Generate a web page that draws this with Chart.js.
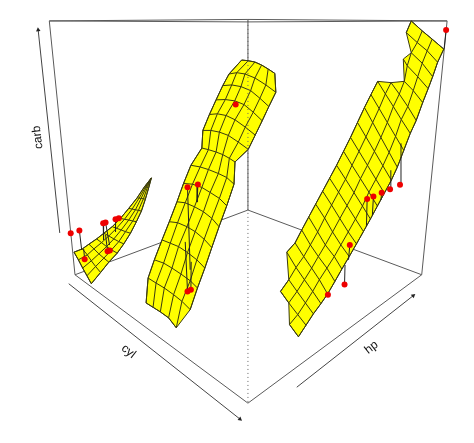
<!DOCTYPE html>
<html><head><meta charset="utf-8">
<style>html,body{margin:0;padding:0;background:#fff}canvas{display:block}</style>
<script src="https://cdn.jsdelivr.net/npm/chart.js@4/dist/chart.umd.min.js"></script>
</head><body><canvas id="c" width="474" height="443"></canvas>
<script>
// Projected (plot-plane) readings of the perspective surface plot: [across, down]
const N = null;
const leftRows = [
 [[73.3,252.3],[77.7,260],[82,268.3],[86.3,276],[90.7,284]],
 [[81.7,249],[86.7,255],[90.7,261],[95,266.7],[100,272.7]],
 [[88.3,244.3],[93.3,249],[98.3,254],[103.3,258.3],[108.3,262.3]],
 [[96,239],[101,242.7],[106,246.7],[111,250],[116.7,253.3]],
 [[103.3,233.3],[108.3,236],[113.3,239],[118.3,241.7],[123.3,244]],
 [[111.7,226.7],[116,228.3],[120.7,230],[125,231.7],[130,233.3]],
 [[120,218.3],[124,219.3],[128.3,220],[132.3,221],[136,221.7]],
 [[128.3,208.3],[131.7,209],[135,209.7],[138,210.3],[141,211]],
 [[136.7,197.7],[138.7,198],[140.7,198.3],[143,198.7],[145,199]],
 [[144,186.7],[145,187],[146,187],[147,187.3],[148.3,187.7]],
 [[151,177.7],[151,177.7],[151,177.7],[151,177.7],[151,177.7]]
];
const midRows = [
 [[145.7,303.3],[152.7,307.7],[160,312.3],[168.3,318.3],[176,328.3],N],
 [[147.7,278.3],[155.7,283.3],[164,288.3],[173.3,295],[181.7,301.7],[190,310]],
 [[154,260],[163.3,263.3],[171.7,268.3],[180.7,274.3],[190,281],[197.3,288.3]],
 [[161.7,240],[170,243.3],[178.3,246.7],[187.3,252.7],[196.7,260],[204.7,268.3]],
 [[169,221.7],[177.3,222.7],[186.7,226.7],[195,231.7],[204,239.3],[211.7,247.7]],
 [[176.7,201.7],[185,202.7],[194.3,206.7],[203.3,211.7],[211.7,218.3],[219,226.7]],
 [[183.3,183.3],[192.3,184],[201.7,187.3],[210,192.3],[219.3,198.3],[226.7,205.7]],
 [[190.7,165],[200,166.7],[208.3,169.3],[218.3,173.3],[226.7,177.3],[234,184]],
 [[201.7,147.7],[208.3,149.3],[216,151.7],[222.7,154.3],[229.3,158],[235,161.7]],
 [[202.7,130],[210.7,130],[219.3,131.7],[228.3,135],[238.3,141.7],[248.3,149]],
 [[209.3,114],[217.3,113.3],[226,115],[235,119.3],[245.3,126.7],[255.3,134.7]],
 [[216,99.3],[225.3,99],[234.7,100.3],[244,104],[253.3,111.7],[262.3,120.3]],
 [[222.7,85],[231.7,84.3],[241,86],[250.7,90],[260,97.7],[269,106]],
 [[229,73.3],[236.7,72],[245,73.3],[255,77.3],[266,84.3],[276,91.7]],
 [[241.7,59.3],[248.3,60],[255,61.3],[261.7,64.3],[268.3,68.3],[275,72.7]]
];
const rightRows = [
 [[298.7,337.3],[289.7,325],N,N,N],
 [[306.3,325.7],[298,315],[289,303.3],[280.7,291.7],N],
 [[313.7,314.3],[305.7,303.3],[297.3,291.7],[289,280],N],
 [[321.3,304],[313,291.7],[304.7,280],[296.3,267.7],[287,252.3]],
 [[328,294.3],[319.7,280],[312,268.3],[304,256.7],[295.3,243]],
 [[335.3,281.7],[327.3,268.3],[318.7,256.7],[310.7,245],[302,230]],
 [[342.3,269.3],[334.7,256.7],[325.7,245],[318,232],[309,217]],
 [[349.7,256.7],[341.3,245],[333,232],[325,218],[316,204]],
 [[357,244],[348.7,232],[340.3,218.5],[332,205],[323,191]],
 [[364,231.5],[356,219],[347.5,205.5],[339,192],[330,178]],
 [[371,219],[363,206],[354.5,192.5],[346,179],[337,165]],
 [[378,206],[369.5,192],[361,178.5],[352.5,165],[344,151]],
 [[385,193],[376.5,179],[368,165],[359.5,151],[351,137]],
 [[392,180],[383.5,165.5],[375,151],[366.5,136.5],[358,122]],
 [[398,167],[389.75,152],[381.5,137],[373.25,122],[365,107]],
 [[404.5,150],[396.25,136],[388,122],[379.75,108],[371.5,94]],
 [[411,133],[402,119],[394,106],[386,93.3],[378.3,80.7]],
 [[417,120],[408.5,106],[400,93.5],[391.7,82],N],
 [[423.5,102],[414,90],[405,80.7],N,N],
 [[429,88],[418.5,76],[408,65],[404,58.3],N],
 [[433.5,76],[423,62.5],[412,52],N,N],
 [[438.5,61.5],[428,50],[418,41.7],[407,31.7],N],
 [[444.7,48.3],[433,38.3],[423,30],[412,20],N]
];
const rightOutline = [[22,3],[22,2],[22,1],[22,0],[21,0],[20,0],[19,0],[18,0],[17,0],[16,0],[15,0],[14,0],[13,0],[12,0],[11,0],[10,0],[9,0],[8,0],[7,0],[6,0],[5,0],[4,0],[3,0],[2,0],[1,0],[0,0],[0,1],[1,2],[1,3],[2,3],[3,4],[4,4],[5,4],[6,4],[7,4],[8,4],[9,4],[10,4],[11,4],[12,4],[13,4],[14,4],[15,4],[16,4],[17,3],[18,2],[19,3],[20,2],[21,3]];

const pointsLeft = [[70,233.3],[78.7,230.5],[102.6,223.3],[105,222.6],[115,219.3],[118.3,218.3],[84,259.3],[107,251.3],[109.3,250.7]];
const pointsMid = [[235.7,104],[187.3,187],[197.7,184.3],[187.3,291.7],[190.7,290]];
const pointsRight = [[447,29],[400.7,184.7],[390.7,189],[382.3,192.7],[374,196.3],[367.7,199],[350.3,245],[345,284.7],[328.3,295]];
const whiskers = [
 [[78.7,230.5],[81,250]],[[84,259.3],[83,249]],[[102.6,223.3],[103,240]],[[105,222.6],[109,245]],[[107,251.3],[105,235]],[[115,219.3],[115,232]],
 [[187.3,187],[190,270]],[[197.7,184.3],[197,202]],[[187.3,291.7],[185,242]],[[190.7,290],[191,262]],
 [[447,29],[445,48]],[[400.7,184.7],[401.7,143]],[[390.7,189],[391.5,170]],[[382.3,192.7],[381.5,200]],[[374,196.3],[373,215]],[[367.7,199],[367,226]],[[350.3,245],[349,260]],[[345,284.7],[345.5,265]]
];
const boxSolid = [
 [[48.5,20],[74.3,275],[248,404],[422.5,275],[448,20]],
 [[74.3,275],[248,210],[422.5,275]],
 [[248,210],[248,18.5]],
 [[48.5,20],[248,18.5],[448,20]],
 [[48.5,20],[248,21],[448,20]]
];
const boxDotted = [[248,20],[248,404]];
const axisArrows = [
 [[59,233],[37.3,29]],
 [[68,284],[240,420]],
 [[297,388],[414,296]]
];
const axisLabels = [["carb",37,137,-96.3],["cyl",128,352,38.3],["hp",372,348,-38]];

const pts = a => a.map(p => p ? {x:p[0], y:p[1]} : {x:NaN, y:NaN});
const ds = [];
const line = (a, o={}) => ds.push(Object.assign({type:'scatter', showLine:true, data:pts(a), borderColor:'#555', borderWidth:1, pointRadius:0, fill:false, clip:false, spanGaps:false, tension:0}, o));

boxSolid.forEach(a => line(a, {borderColor:'#5a5a5a'}));
axisArrows.forEach(a => {
  const dx=a[1][0]-a[0][0], dy=a[1][1]-a[0][1], ang=Math.atan2(dx,-dy)*180/Math.PI;
  line(a, {borderColor:'#444', pointStyle:'triangle', pointRadius:c=>c.dataIndex===1?2.6:0, pointRotation:ang, pointBackgroundColor:'#222', pointBorderColor:'#222', pointBorderWidth:0});
});

function mesh(rows, outline){
  line(outline, {fill:'shape', backgroundColor:'#ffff00', borderColor:'#3a3a10', borderWidth:1, borderJoinStyle:'round'});
  rows.forEach(r => line(r, {borderColor:'#3a3a10'}));
  rows[0].forEach((_,c) => line(rows.map(r=>r[c]), {borderColor:'#3a3a10'}));
}
function ring(rows){
  const out=[], n=rows.length, m=rows[0].length;
  rows[0].forEach(p=>p&&out.push(p));
  for(let i=1;i<n;i++) if(rows[i][m-1]) out.push(rows[i][m-1]);
  for(let j=m-2;j>=0;j--) if(rows[n-1][j]) out.push(rows[n-1][j]);
  for(let i=n-2;i>0;i--) if(rows[i][0]) out.push(rows[i][0]);
  out.push(rows[0][0]);
  return out;
}
mesh(leftRows, ring(leftRows));
mesh(midRows, ring(midRows));
const ro = rightOutline.map(k=>rightRows[k[0]][k[1]]); ro.push(ro[0]);
mesh(rightRows, ro);
line(boxDotted, {borderColor:'#666', borderDash:[1,3]});
whiskers.forEach(a => line(a, {borderColor:'#222'}));
[pointsLeft, pointsMid, pointsRight].forEach(a => ds.push({type:'scatter', data:pts(a), pointRadius:3, pointBackgroundColor:'#ee0000', pointBorderColor:'#ee0000', pointBorderWidth:0, showLine:false, clip:false}));
ds.forEach((d,i)=>d.order=ds.length-i);

const labelPlugin = {id:'axisLabels', afterDatasetsDraw(ch){
  const g=ch.ctx, sx=ch.scales.x, sy=ch.scales.y;
  axisLabels.forEach(([t,x,y,a])=>{
    g.save(); g.translate(sx.getPixelForValue(x), sy.getPixelForValue(y)); g.rotate(a*Math.PI/180);
    g.font='12px "Liberation Sans", Arial, sans-serif'; g.fillStyle='#111'; g.textAlign='center'; g.textBaseline='middle';
    g.fillText(t,0,0); g.restore();
  });
}};
new Chart(document.getElementById('c'), {
  data:{datasets:ds},
  plugins:[labelPlugin],
  options:{responsive:false, animation:false, layout:{padding:0},
    plugins:{legend:{display:false}, tooltip:{enabled:false}},
    scales:{x:{type:'linear', min:3, max:471, display:false}, y:{type:'linear', min:3, max:440, reverse:true, display:false}}}
});
</script></body></html>
